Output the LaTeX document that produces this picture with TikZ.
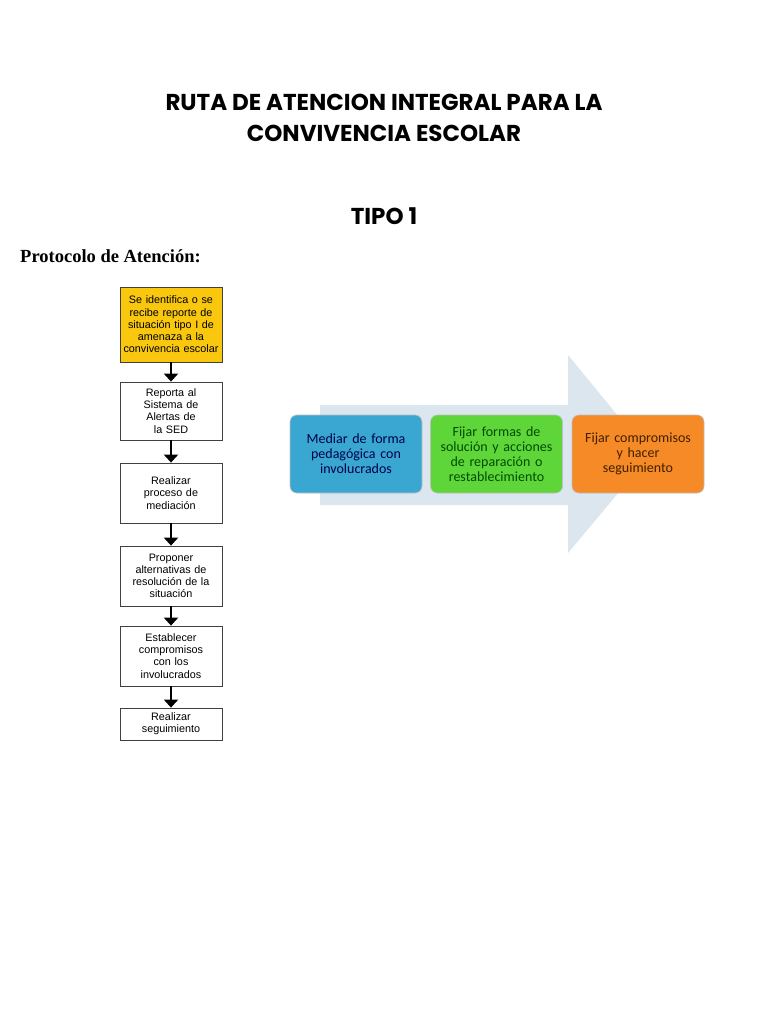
\documentclass[tikz,border=0pt]{standalone}
\usepackage{fontspec}
\setmainfont{Liberation Sans}
\newfontfamily\titlefont{Poppins}
\newfontfamily\serfont{Liberation Serif}
\newfontfamily\calfont{Carlito}
\usetikzlibrary{arrows.meta}
\definecolor{ylw}{HTML}{F9C80E}
\definecolor{bluebox}{HTML}{3AA7D2}
\definecolor{greenbox}{HTML}{5ED63A}
\definecolor{orangebox}{HTML}{F58A26}
\definecolor{bigarrow}{HTML}{DCE6EE}
\tikzset{
  flow/.style={draw=black!75, line width=0.8pt, minimum width=102pt, text width=100pt, align=center, font=\fontsize{10.8}{12.2}\selectfont, inner sep=0pt},
  flowarr/.style={-{Triangle[length=8pt,width=14pt]}, line width=2pt},
  stage/.style={rounded corners=7pt, minimum width=132pt, minimum height=78pt, text width=128pt, inner sep=0pt, align=center, font=\calfont\fontsize{14}{15}\selectfont, draw=black!25, line width=0.6pt},
  ttl/.style={font=\titlefont\bfseries\fontsize{23}{26}\selectfont},
}
\begin{document}
\begin{tikzpicture}[x=1pt,y=-1pt]
\useasboundingbox (0,0) rectangle (768,1024);
\fill[white] (0,0) rectangle (768,1024);
\node[ttl] (t1) at (384,102) {RUTA DE ATENCION INTEGRAL PARA LA};
\node[ttl] (t2) at (384,133) {CONVIVENCIA ESCOLAR};
\node[ttl] (t3) at (384,216) {TIPO 1};
\node[font=\serfont\bfseries\fontsize{18.5}{20}\selectfont, anchor=west, inner sep=0pt] (pr) at (20,256) {Protocolo de Atención:};
% flowchart
\node[flow, fill=ylw, minimum height=75pt] (f1) at (171,324.5) {Se identifica o se\\recibe reporte de\\situación tipo I de\\amenaza a la\\convivencia escolar};
\node[flow, minimum height=58pt] (f2) at (171,411) {Reporta al\\Sistema de\\Alertas de\\la SED};
\node[flow, minimum height=60pt] (f3) at (171,493) {Realizar\\proceso de\\mediación};
\node[flow, minimum height=60pt] (f4) at (171,576) {Proponer\\alternativas de\\resolución de la\\situación};
\node[flow, minimum height=60pt] (f5) at (171,656) {Establecer\\compromisos\\con los\\involucrados};
\node[flow, minimum height=32pt] (f6) at (171,724) {Realizar\\seguimiento};
\draw[flowarr] (f1) -- (f2);
\draw[flowarr] (f2) -- (f3);
\draw[flowarr] (f3) -- (f4);
\draw[flowarr] (f4) -- (f5);
\draw[flowarr] (f5) -- (f6);
% big arrow
\fill[bigarrow] (320,405) -- (568,405) -- (568,355) -- (650,455) -- (568,553) -- (568,505) -- (320,505) -- cycle;
\node[stage, fill=bluebox, text=black!70!blue] (s1) at (356,454) {Mediar de forma\\pedagógica con\\involucrados};
\node[stage, fill=greenbox, text=black!70!green] (s2) at (496.5,454) {Fijar formas de\\solución y acciones\\de reparación o\\restablecimiento};
\node[stage, fill=orangebox, text=black!75!orange] (s3) at (638,454) {Fijar compromisos\\y hacer\\seguimiento};
\end{tikzpicture}
\end{document}
